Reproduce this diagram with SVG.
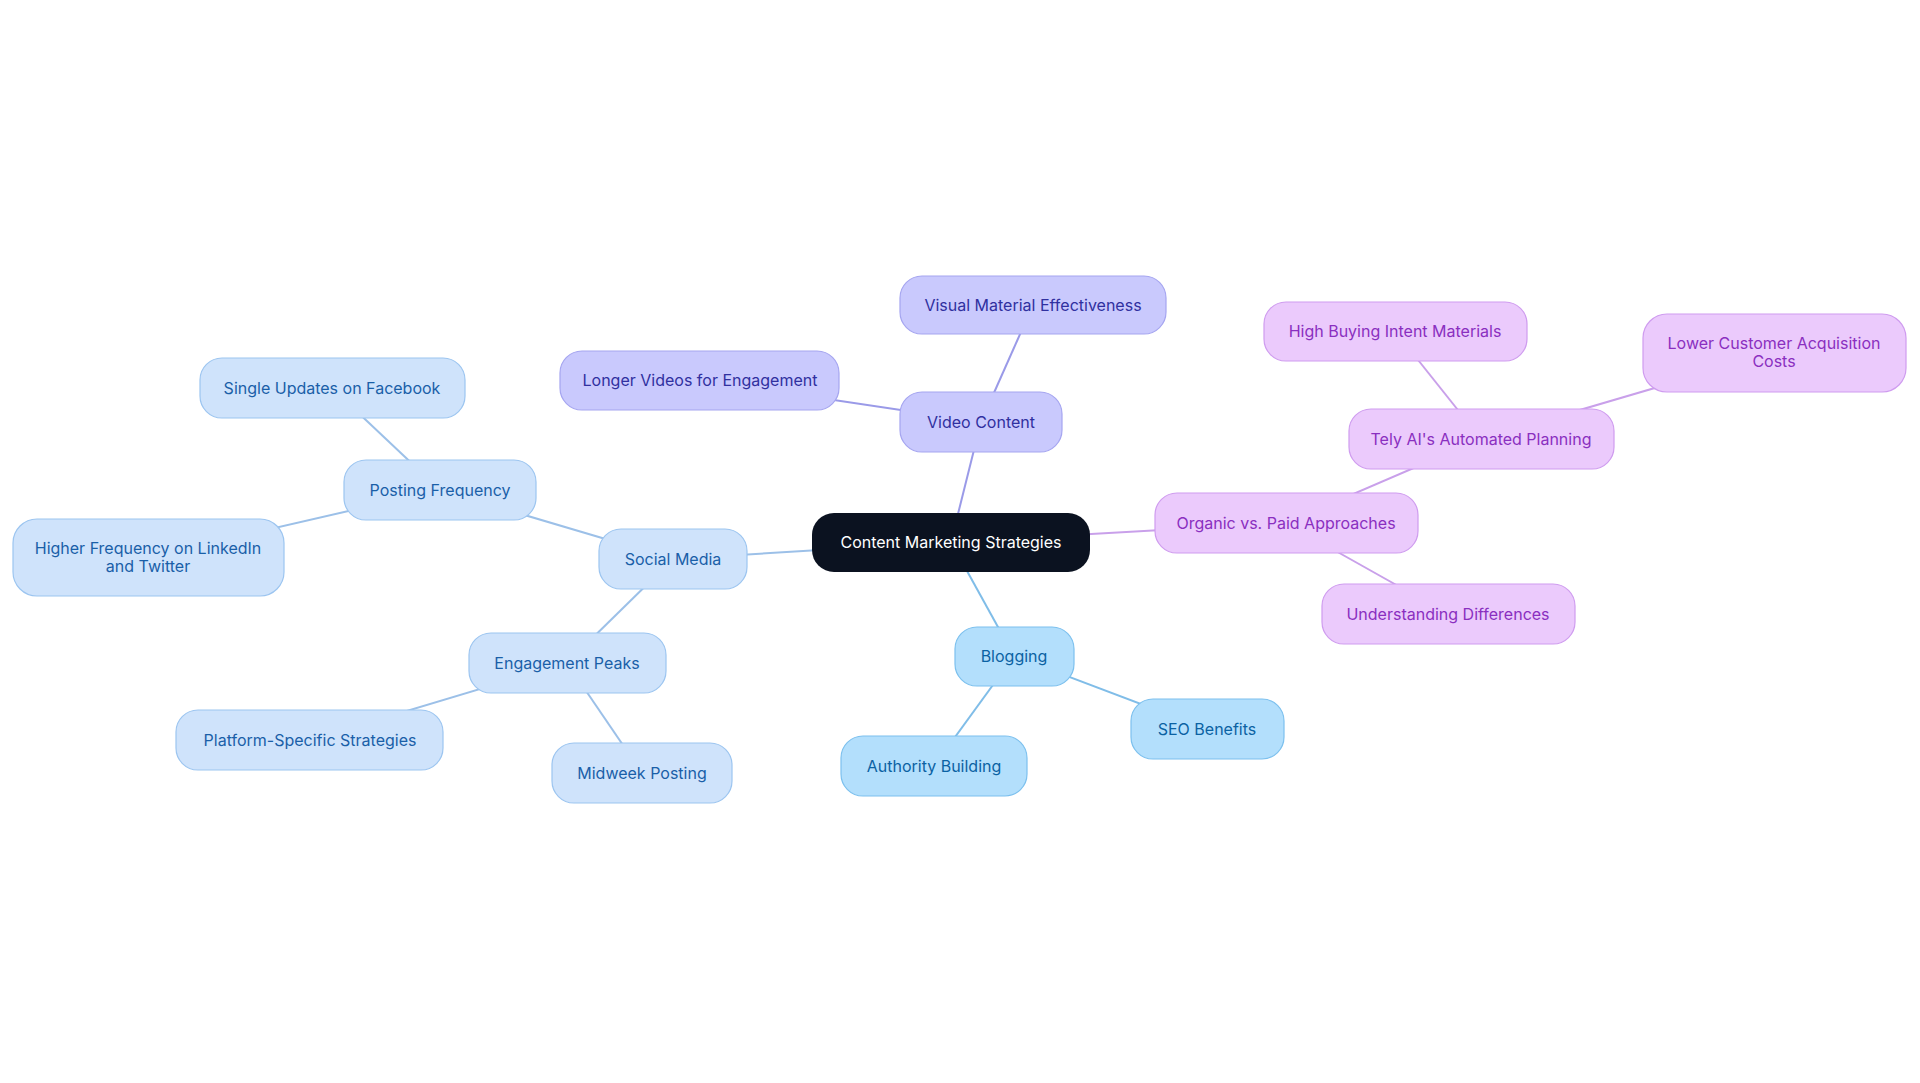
<svg xmlns="http://www.w3.org/2000/svg" width="1920" height="1083" viewBox="0 0 1920 1083">
<style>
text{font-family:Inter,"Noto Sans",sans-serif;font-size:16px;text-anchor:middle;dominant-baseline:central}
.s rect{fill:#cfe3fb;stroke:#9cc5f0;stroke-width:1.2}.s text{fill:#1a5fa8}
.b rect{fill:#b3dffc;stroke:#7cc0ee;stroke-width:1.2}.b text{fill:#0b62a3}
.v rect{fill:#c9c9fd;stroke:#a5a5f0;stroke-width:1.2}.v text{fill:#3030a0}
.p rect{fill:#ebcafc;stroke:#cf9cef;stroke-width:1.2}.p text{fill:#8a2fc0}
#edges line{stroke-width:2}
</style>
<rect width="1920" height="1083" fill="#fff"/>
<g id="edges">
<g stroke="#9a9ae8"><line x1="951" y1="542" x2="981" y2="422"/><line x1="981" y1="422" x2="1033" y2="305"/><line x1="981" y1="422" x2="700" y2="380"/></g>
<g stroke="#9cc0e8"><line x1="951" y1="542" x2="673" y2="559"/><line x1="673" y1="559" x2="440" y2="490"/><line x1="440" y1="490" x2="332" y2="388"/><line x1="440" y1="490" x2="148" y2="557"/><line x1="673" y1="559" x2="567" y2="663"/><line x1="567" y1="663" x2="310" y2="740"/><line x1="567" y1="663" x2="642" y2="773"/></g>
<g stroke="#80bde8"><line x1="951" y1="542" x2="1014" y2="656"/><line x1="1014" y1="656" x2="1207" y2="729"/><line x1="1014" y1="656" x2="934" y2="766"/></g>
<g stroke="#c9a0ea"><line x1="951" y1="542" x2="1286" y2="523"/><line x1="1286" y1="523" x2="1481" y2="439"/><line x1="1481" y1="439" x2="1395" y2="331"/><line x1="1481" y1="439" x2="1774" y2="353"/><line x1="1286" y1="523" x2="1448" y2="614"/></g>
</g>
<g id="center"><rect x="812" y="513" width="278" height="59" rx="22" fill="#0b1220"/><text x="951" y="542" fill="#fff">Content Marketing Strategies</text></g>
<g id="video" class="v"><rect x="900" y="392" width="162" height="60" rx="22"/><text x="981" y="422">Video Content</text></g>
<g id="visual" class="v"><rect x="900" y="276" width="266" height="58" rx="22"/><text x="1033" y="305">Visual Material Effectiveness</text></g>
<g id="longer" class="v"><rect x="560" y="351" width="279" height="59" rx="22"/><text x="700" y="380">Longer Videos for Engagement</text></g>
<g id="social" class="s"><rect x="599" y="529" width="148" height="60" rx="22"/><text x="673" y="559">Social Media</text></g>
<g id="posting" class="s"><rect x="344" y="460" width="192" height="60" rx="22"/><text x="440" y="490">Posting Frequency</text></g>
<g id="single" class="s"><rect x="200" y="358" width="265" height="60" rx="22"/><text x="332" y="388">Single Updates on Facebook</text></g>
<g id="higher" class="s"><rect x="13" y="519" width="271" height="77" rx="24"/><text x="148" y="548">Higher Frequency on LinkedIn</text><text x="148" y="566">and Twitter</text></g>
<g id="peaks" class="s"><rect x="469" y="633" width="197" height="60" rx="22"/><text x="567" y="663">Engagement Peaks</text></g>
<g id="platform" class="s"><rect x="176" y="710" width="267" height="60" rx="22"/><text x="310" y="740">Platform-Specific Strategies</text></g>
<g id="midweek" class="s"><rect x="552" y="743" width="180" height="60" rx="22"/><text x="642" y="773">Midweek Posting</text></g>
<g id="blogging" class="b"><rect x="955" y="627" width="119" height="59" rx="22"/><text x="1014" y="656">Blogging</text></g>
<g id="seo" class="b"><rect x="1131" y="699" width="153" height="60" rx="22"/><text x="1207" y="729">SEO Benefits</text></g>
<g id="authority" class="b"><rect x="841" y="736" width="186" height="60" rx="22"/><text x="934" y="766">Authority Building</text></g>
<g id="organic" class="p"><rect x="1155" y="493" width="263" height="60" rx="22"/><text x="1286" y="523">Organic vs. Paid Approaches</text></g>
<g id="tely" class="p"><rect x="1349" y="409" width="265" height="60" rx="22"/><text x="1481" y="439">Tely AI's Automated Planning</text></g>
<g id="buying" class="p"><rect x="1264" y="302" width="263" height="59" rx="22"/><text x="1395" y="331">High Buying Intent Materials</text></g>
<g id="lower" class="p"><rect x="1643" y="314" width="263" height="78" rx="24"/><text x="1774" y="343">Lower Customer Acquisition</text><text x="1774" y="361">Costs</text></g>
<g id="understanding" class="p"><rect x="1322" y="584" width="253" height="60" rx="22"/><text x="1448" y="614">Understanding Differences</text></g>
</svg>
